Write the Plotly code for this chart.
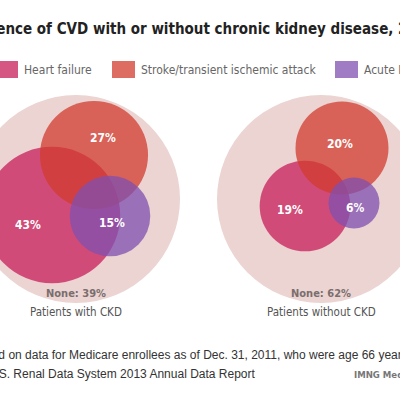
import math
import plotly.graph_objects as go

# ---------------- data ----------------
groups = ["Patients with CKD", "Patients without CKD"]
conditions = ["Heart failure", "Stroke/transient ischemic attack", "Acute MI"]
heart_failure = [43, 19]
stroke_tia = [27, 20]
acute_mi = [15, 6]
none_pct = [39, 62]

title_text = "Prevalence of CVD with or without chronic kidney disease, 2011"
note_text = "Note: Based on data for Medicare enrollees as of Dec. 31, 2011, who were age 66 years or older."
source_text = "Source: U.S. Renal Data System 2013 Annual Data Report"
credit_text = "IMNG Medical Media"

# ---------------- layout / styles ----------------
W = H = 400
R_ALL = 104  # radius of the 100% circle (area proportional)
group_centers = [(76, 199), (321, 199)]
circle_offsets = [  # per group: HF, stroke, AMI centre offsets
    [(-24, 16), (18, -44), (34, 17)],
    [(-16, 7), (21, -51), (33, 4)],
]
label_pos = [
    [(28, 225), (103, 138), (112, 223)],
    [(290, 210), (340, 144), (355, 208)],
]
bg_color = "#ebd4d1"
cond_colors = ["#c81e5a", "#d13b2f", "#7f50b0"]
cond_opacity = 0.75
cond_font = "Liberation Sans Narrow, DejaVu Sans Condensed, Arial Narrow, sans-serif"
body_font = "Liberation Sans, Arial, sans-serif"

series = [heart_failure, stroke_tia, acute_mi]

fig = go.Figure()
shapes = []
annotations = []


def px(x):
    return x / W


def py(y):
    return 1 - y / H


def text(x, y, s, size, color, anchor="center", weight="normal", family=cond_font):
    annotations.append(dict(x=px(x), y=py(y), xref="paper", yref="paper", xanchor=anchor,
                            yanchor="middle", text=s, showarrow=False,
                            font=dict(family=family, size=size, color=color, weight=weight)))


def circle(cx, cy, r, color, opacity=1.0):
    return dict(type="circle", xref="x", yref="y", x0=cx - r, x1=cx + r,
                y0=cy - r, y1=cy + r, fillcolor=color, opacity=opacity,
                line=dict(width=0), layer="below")


for g, (gx, gy) in enumerate(group_centers):
    shapes.append(circle(gx, gy, R_ALL, bg_color))
    for k, vals in enumerate(series):
        ox, oy = circle_offsets[g][k]
        r = R_ALL * math.sqrt(vals[g] / 100)
        shapes.append(circle(gx + ox, gy + oy, r, cond_colors[k], cond_opacity))
        lx, ly = label_pos[g][k]
        text(lx, ly, f"{vals[g]}%", 12, "white", weight="bold")
    text(gx, 293, f"None: {none_pct[g]}%", 11, "#7a6e6e", weight="bold")
    text(gx, 312, groups[g], 11.5, "#555555")

# title
text(-54, 29, title_text, 15, "#222222", anchor="left", weight="bold")

# legend (swatches + labels)
legend_swatch_x = [-5, 112, 335]
for k, name in enumerate(conditions):
    sx = legend_swatch_x[k]
    shapes.append(dict(type="rect", xref="x", yref="y", x0=sx, x1=sx + 23, y0=61, y1=78,
                       fillcolor=cond_colors[k], opacity=cond_opacity, line=dict(width=0)))
    text(sx + 27, 70, name, 12, "#666666", anchor="left")

# footer
text(-63, 355, note_text, 12, "#333333", anchor="left", family=body_font)
text(-60, 374, source_text, 12, "#333333", anchor="left", family=body_font)
text(352, 374, credit_text, 9.5, "#777777", anchor="left", weight="bold")

fig.update_layout(
    width=W, height=H,
    margin=dict(l=0, r=0, t=0, b=0),
    paper_bgcolor="white", plot_bgcolor="white",
    xaxis=dict(range=[0, W], visible=False, fixedrange=True),
    yaxis=dict(range=[H, 0], visible=False, fixedrange=True),
    shapes=shapes, annotations=annotations,
    showlegend=False,
)

fig.write_html("out.html", config={"displayModeBar": False},
               post_script="document.body.style.margin='0';document.body.style.overflow='hidden';")
